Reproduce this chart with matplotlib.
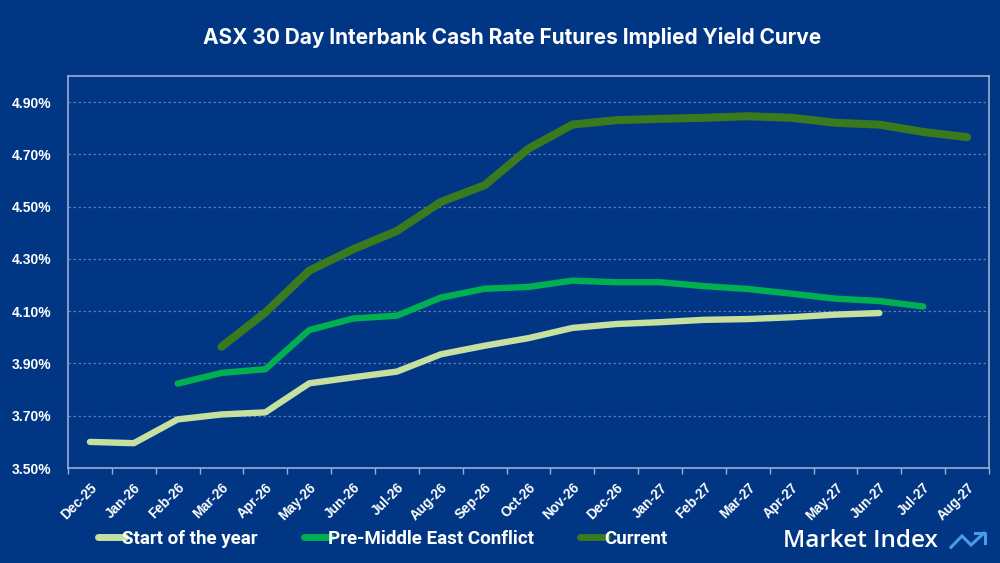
import matplotlib
matplotlib.use("Agg")
import matplotlib.pyplot as plt
from matplotlib.lines import Line2D
import numpy as np

months = ["Dec-25", "Jan-26", "Feb-26", "Mar-26", "Apr-26", "May-26", "Jun-26",
          "Jul-26", "Aug-26", "Sep-26", "Oct-26", "Nov-26", "Dec-26", "Jan-27",
          "Feb-27", "Mar-27", "Apr-27", "May-27", "Jun-27", "Jul-27", "Aug-27"]

start_of_year = [3.60, 3.595, 3.686, 3.705, 3.713, 3.824, 3.847, 3.869, 3.935,
                 3.968, 3.997, 4.036, 4.051, 4.058, 4.067, 4.070, 4.077, 4.087,
                 4.093]
pre_conflict = [3.823, 3.864, 3.878, 4.028, 4.072, 4.083, 4.152, 4.186, 4.193,
                4.217, 4.211, 4.211, 4.196, 4.185, 4.167, 4.148, 4.139, 4.118]
current = [3.964, 4.095, 4.255, 4.337, 4.407, 4.518, 4.582, 4.722, 4.814,
           4.831, 4.836, 4.840, 4.846, 4.840, 4.821, 4.814, 4.786, 4.766]

series_names = ["Start of the year", "Pre-Middle East Conflict", "Current"]
series_start = [0, 2, 3]  # index of first month for each series
series_colors = ["#C6E0A0", "#00B050", "#3A7A1E"]
series_widths = [4.6, 4.6, 5.8]

yticks = [3.50, 3.70, 3.90, 4.10, 4.30, 4.50, 4.70, 4.90]

BG = "#003684"
BORDER = "#9AADD0"
GRID = "#5F7AB0"

fig = plt.figure(figsize=(10, 5.63), dpi=100, facecolor=BG)
ax = fig.add_axes([0.068, 0.1687, 0.921, 0.6963], facecolor=BG)

x = np.arange(len(months))
for data, s0, name, c, w in zip([start_of_year, pre_conflict, current],
                                series_start, series_names, series_colors,
                                series_widths):
    xs = x[s0:s0 + len(data)]
    ax.plot(xs, data, color=c, lw=w, solid_capstyle="round",
            solid_joinstyle="round", label=name, zorder=3)

ax.set_xlim(-0.5, len(months) - 0.5)
ax.set_ylim(3.5, 5.0)
ax.set_yticks(yticks)
ax.set_yticklabels([f"{v:.2f}%" for v in yticks])
ax.set_xticks(x)
ax.set_xticklabels(months, rotation=45, ha="right", rotation_mode="anchor")
ax.set_xticks(np.arange(-0.5, len(months)), minor=True)
ax.tick_params(axis="x", which="major", length=0, pad=9, labelsize=9.8,
               labelcolor="white")
ax.tick_params(axis="x", which="minor", length=4, width=1, color=BORDER,
               direction="out")
ax.tick_params(axis="y", length=0, pad=12, labelsize=10, labelcolor="white")
for lab in ax.get_xticklabels() + ax.get_yticklabels():
    lab.set_fontweight("bold")
    lab.set_family(["Liberation Sans", "DejaVu Sans"])

ax.yaxis.grid(True, color=GRID, linestyle=(0, (2, 2)), lw=0.9)
ax.set_axisbelow(True)
for sp in ax.spines.values():
    sp.set_color(BORDER)
    sp.set_linewidth(1.2)

fig.text(0.5125, 0.934, "ASX 30 Day Interbank Cash Rate Futures Implied Yield Curve",
         ha="center", va="center", color="white", fontsize=15.0,
         fontweight="bold", family=["Inter", "Liberation Sans", "DejaVu Sans"])

handles = [Line2D([], [], color=c, lw=5, solid_capstyle="round")
           for c in series_colors]
leg = fig.legend(handles, series_names, loc="center left",
                 bbox_to_anchor=(0.081, 0.043), ncol=3, frameon=False,
                 handlelength=1.45, handletextpad=-0.15, columnspacing=2.45,
                 prop={"family": ["Roboto", "DejaVu Sans"],
                       "weight": "bold", "size": 13.5})
for t in leg.get_texts():
    t.set_color("white")

# brand logo
fig.text(0.783, 0.0385, "Market Index", ha="left", va="center", color="white",
         fontsize=17.5, family=["Open Sans", "DejaVu Sans"], fontweight="semibold")
logo_x = [0.951, 0.962, 0.971, 0.984]
logo_y = [0.028, 0.048, 0.032, 0.053]
fig.add_artist(Line2D(logo_x, logo_y, color="#4A9BE8", lw=2.2,
                      transform=fig.transFigure, solid_joinstyle="miter"))
fig.add_artist(Line2D([0.975, 0.985, 0.985], [0.054, 0.054, 0.036],
                      color="#4A9BE8", lw=2.2, transform=fig.transFigure))

fig.savefig("out.png", dpi=100, facecolor=BG)
